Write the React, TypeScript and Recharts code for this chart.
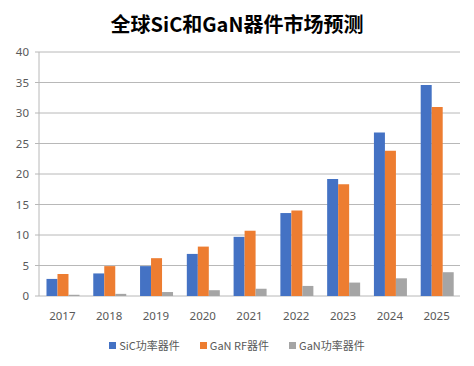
import React from 'react';
import { BarChart, Bar, XAxis, YAxis, CartesianGrid, Legend } from 'recharts';

const years = ['2017', '2018', '2019', '2020', '2021', '2022', '2023', '2024', '2025'];
const sicPower = [2.8, 3.7, 4.9, 6.9, 9.7, 13.6, 19.2, 26.8, 34.6];
const ganRf = [3.6, 4.9, 6.2, 8.1, 10.7, 14.0, 18.3, 23.8, 31.0];
const ganPower = [0.2, 0.35, 0.65, 0.95, 1.2, 1.65, 2.2, 2.9, 3.9];
const seriesNames = ['SiC功率器件', 'GaN RF器件', 'GaN功率器件'];
const seriesColors = ['#4472C4', '#ED7D31', '#A5A5A5'];
const yTicks = [0, 5, 10, 15, 20, 25, 30, 35, 40];
const boundaryTicks = [0, 1, 2, 3, 4, 5, 6, 7, 8, 9];
const title = '全球SiC和GaN器件市场预测';

const data = years.map((y, i) => ({
  year: y,
  sic: sicPower[i],
  ganrf: ganRf[i],
  ganp: ganPower[i],
}));

const gridColor = '#b8b8b8';
const textColor = '#595959';
const latinFont = '"Noto Sans", "Noto Sans CJK SC", sans-serif';
const cjkFont = '"Noto Sans CJK SC", "Noto Sans", sans-serif';

const LegendContent = (props: any) => {
  const payload = [...(props.payload || [])].sort(
    (a: any, b: any) => seriesNames.indexOf(a.value) - seriesNames.indexOf(b.value)
  );
  return (
    <div style={{ display: 'flex', justifyContent: 'center', alignItems: 'center', height: 20, gap: 20 }}>
      {payload.map((p: any, i: number) => (
        <div key={i} style={{ display: 'flex', alignItems: 'center' }}>
          <span style={{ display: 'inline-block', width: 7, height: 7, background: p.color, marginRight: 3 }} />
          <span style={{ fontFamily: cjkFont, fontSize: 11, color: textColor, lineHeight: '20px' }}>{p.value}</span>
        </div>
      ))}
    </div>
  );
};

export default function App() {
  return (
    <div style={{ position: 'absolute', left: 0, top: 0, width: 474, height: 366, background: '#fff' }}>
      <div
        style={{
          position: 'absolute',
          left: 0,
          top: 10,
          width: 474,
          textAlign: 'center',
          fontFamily: cjkFont,
          fontWeight: 'bold',
          fontSize: 20,
          lineHeight: '28px',
          color: '#000',
          zIndex: 2,
        }}
      >
        {title}
      </div>
      <BarChart
        width={474}
        height={366}
        data={data}
        margin={{ top: 52, right: 14, left: 0, bottom: 20 }}
        barCategoryGap="16%"
        barGap={0}
      >
        <CartesianGrid vertical={false} stroke={gridColor} strokeWidth={1} yAxisId="y" xAxisId="cat" />
        <XAxis
          xAxisId="bounds"
          type="number"
          domain={[0, 9]}
          ticks={boundaryTicks}
          interval={0}
          height={0}
          tick={false}
          tickSize={5}
          tickLine={{ stroke: gridColor }}
          axisLine={{ stroke: gridColor }}
          allowDataOverflow
        />
        <XAxis
          xAxisId="cat"
          dataKey="year"
          height={30}
          tickLine={false}
          axisLine={false}
          tickSize={5}
          tickMargin={11}
          interval={0}
          tick={{ fill: textColor, fontSize: 11.5, fontFamily: latinFont }}
        />
        <YAxis
          yAxisId="y"
          width={39}
          domain={[0, 40]}
          ticks={yTicks}
          interval={0}
          tickSize={4}
          tickMargin={6}
          tickLine={{ stroke: gridColor }}
          axisLine={{ stroke: gridColor }}
          tick={{ fill: textColor, fontSize: 11.5, fontFamily: latinFont }}
        />
        <Legend
          verticalAlign="bottom"
          height={20}
          wrapperStyle={{ bottom: 11, left: 0, width: 474 }}
          content={<LegendContent />}
        />
        <Bar dataKey="sic" name={seriesNames[0]} fill={seriesColors[0]} xAxisId="cat" yAxisId="y" isAnimationActive={false} />
        <Bar dataKey="ganrf" name={seriesNames[1]} fill={seriesColors[1]} xAxisId="cat" yAxisId="y" isAnimationActive={false} />
        <Bar dataKey="ganp" name={seriesNames[2]} fill={seriesColors[2]} xAxisId="cat" yAxisId="y" isAnimationActive={false} />
      </BarChart>
    </div>
  );
}
